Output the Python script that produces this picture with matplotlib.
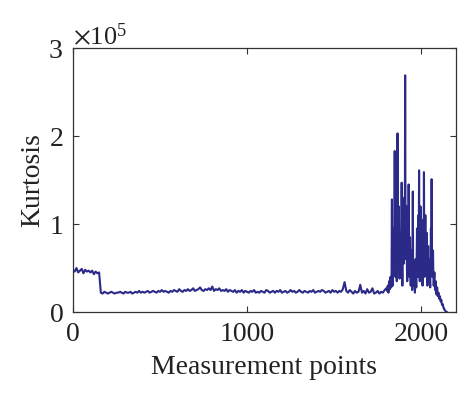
import numpy as np
import matplotlib
matplotlib.use("Agg")
import matplotlib.pyplot as plt

# Kurtosis values, in units of 1e3
# first block, measurement points 0..150 (step 10)
start_k = [48, 46, 50, 45, 47, 49, 44, 48, 46, 47, 45, 47, 43, 46, 44, 45]
# flat baseline, points 160..1800 (step 10)
base_k = [22, 21, 23, 22, 21, 22, 23, 22, 21, 22,
          22, 23, 22, 21, 23, 22, 22, 23, 21, 22,
          23, 22, 24, 22, 23, 22, 23, 24, 22, 23,
          24, 23, 22, 24, 23, 25, 23, 24, 23, 22,
          24, 23, 25, 24, 23, 26, 24, 23, 25, 24,
          26, 24, 25, 27, 24, 25, 26, 28, 25, 24,
          26, 25, 27, 25, 29, 24, 26, 25, 27, 24,
          25, 24, 26, 23, 25, 24, 23, 25, 22, 24,
          23, 25, 22, 24, 23, 22, 24, 23, 25, 22,
          23, 22, 24, 23, 22, 25, 24, 22, 23, 24,
          22, 24, 23, 25, 22, 23, 24, 22, 23, 25,
          23, 24, 22, 23, 25, 23, 22, 24, 23, 22,
          24, 23, 25, 22, 23, 24, 23, 25, 24, 22,
          23, 24, 22, 25, 23, 24, 22, 24, 23, 26,
          34, 24, 22, 25, 23, 21, 24, 22, 23, 31,
          22, 24, 21, 26, 22, 23, 27, 21, 22, 24,
          21, 23, 22, 25, 27]
# burst region, points 1804..2148 (step 2)
burst_k = [24, 27, 30, 25, 22, 28, 35, 30, 26, 33,
           40, 32, 28, 45, 128, 38, 30, 60, 95, 48,
           45, 70, 183, 50, 40, 85, 110, 42, 35, 75,
           203, 55, 50, 95, 120, 60, 38, 70, 90, 48,
           45, 80, 147, 55, 30, 65, 105, 70, 55, 90,
           130, 75, 269, 85, 60, 100, 120, 50, 35, 65,
           100, 60, 145, 70, 40, 55, 85, 45, 30, 50,
           70, 40, 25, 60, 137, 45, 30, 38, 45, 28,
           22, 35, 60, 40, 28, 55, 95, 60, 40, 80,
           110, 70, 161, 50, 35, 75, 120, 80, 50, 65,
           85, 45, 30, 70, 105, 60, 159, 55, 40, 75,
           110, 65, 45, 60, 90, 40, 30, 55, 75, 45,
           35, 50, 60, 38, 28, 55, 95, 60, 151, 48,
           40, 55, 70, 42, 30, 38, 45, 32, 25, 30,
           35, 25, 20, 24, 28, 20, 18, 21, 22, 17,
           15, 17, 18, 14, 12, 13, 14, 10, 8, 9,
           9, 7, 5, 4, 4, 3, 2, 1.5, 1, 0.8,
           0.5, 0.3, 0]

points = np.concatenate([np.arange(0, 160, 10),
                         np.arange(160, 1801, 10),
                         np.arange(1804, 2149, 2)])
kurtosis = np.array(start_k + base_k + burst_k) * 1e3

plt.rcParams['font.family'] = ['Liberation Serif', 'DejaVu Serif']
plt.rcParams['mathtext.fontset'] = 'stix'

fig = plt.figure(figsize=(4.74, 3.97), dpi=100)
ax = fig.add_axes([0.154, 0.214, 0.808, 0.665])

line_color = '#2c2a88'
ax.plot(points, kurtosis, color=line_color, lw=1.5)

ax.set_xlim(0, 2200)
ax.set_ylim(0, 3e5)
ax.set_xticks([0, 1000, 2000])
ax.set_yticks([0, 1e5, 2e5, 3e5])
ax.ticklabel_format(axis='y', style='sci', scilimits=(0, 0), useMathText=True)
ax.yaxis.get_offset_text().set_fontsize(19)

ax.tick_params(direction='in', top=True, right=True, labelsize=20, pad=7,
               length=4, width=0.8, colors='#333333', labelcolor='#222222')
for s in ax.spines.values():
    s.set_color('#333333')
    s.set_linewidth(0.9)

ax.set_xlabel('Measurement points', fontsize=20, color='#222222', labelpad=6)
ax.set_ylabel('Kurtosis', fontsize=20, color='#222222', labelpad=2)

fig.savefig('out.png', dpi=100)
